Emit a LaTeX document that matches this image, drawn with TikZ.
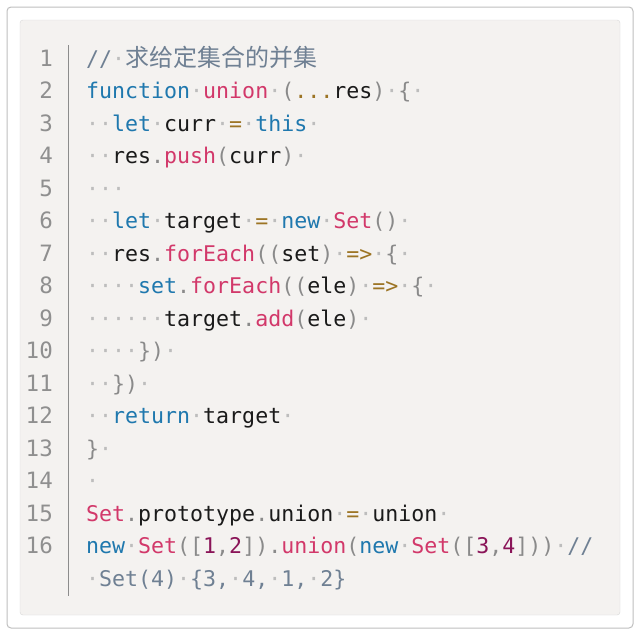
\documentclass[tikz,border=0pt]{standalone}
\usepackage{fontspec}
\newfontfamily\code{DejaVu Sans Mono}
\newfontfamily\cjk{Noto Sans CJK SC}
\definecolor{kw}{HTML}{1F78AE}
\definecolor{fn}{HTML}{D2386A}
\definecolor{op}{HTML}{9C7424}
\definecolor{pu}{HTML}{8A8A8A}
\definecolor{nu}{HTML}{8A1458}
\definecolor{cm}{HTML}{6F8093}
\definecolor{dt}{HTML}{BDBDBD}
\definecolor{tx}{HTML}{1A1A1A}
\definecolor{bg}{HTML}{F4F2F0}
\definecolor{ln}{HTML}{8F8F8F}
\newcommand\cK[1]{\textcolor{kw}{#1}}
\newcommand\cF[1]{\textcolor{fn}{#1}}
\newcommand\cO[1]{\textcolor{op}{#1}}
\newcommand\cP[1]{\textcolor{pu}{#1}}
\newcommand\cN[1]{\textcolor{nu}{#1}}
\newcommand\cC[1]{\textcolor{cm}{#1}}
\newcommand\sd{\textcolor{dt}{·}}
\begin{document}
\begin{tikzpicture}[x=1pt,y=-1pt,
  codeline/.style={anchor=base west,inner sep=0pt,text=tx,font=\code\fontsize{21.6}{30}\selectfont},
  lnum/.style={anchor=base east,inner sep=0pt,text=ln,font=\code\fontsize{22.5}{30}\selectfont}]
\useasboundingbox (0,0) rectangle (640,635);
\draw[rounded corners=4pt,draw=black!25,fill=white,line width=1pt] (7,7) rectangle (633,628);
\draw[rounded corners=3pt,draw=black!15,fill=bg] (20,20) rectangle (620,615);
\draw[draw=black!45,line width=1pt] (68,45) -- (68,596);
\foreach \i in {1,...,16} {\node[lnum] (n\i) at (53,{66+32.5*(\i-1)}) {\i};}
\def\Y#1{{66+32.5*(#1-1)}}
\node[codeline] (l1) at (86,\Y1) {\cC{//\sd{\cjk\fontsize{24}{30}\selectfont 求给定集合的并集}}};
\node[codeline] (l2) at (86,\Y2) {\cK{function}\sd\cF{union}\sd\cP{(}\cO{...}res\cP{)}\sd\cP{\{}\sd};
\node[codeline] (l3) at (86,\Y3) {\sd\sd\cK{let}\sd curr\sd\cO{=}\sd\cK{this}\sd};
\node[codeline] (l4) at (86,\Y4) {\sd\sd res\cP{.}\cF{push}\cP{(}curr\cP{)}\sd};
\node[codeline] (l5) at (86,\Y5) {\sd\sd\sd};
\node[codeline] (l6) at (86,\Y6) {\sd\sd\cK{let}\sd target\sd\cO{=}\sd\cK{new}\sd\cF{Set}\cP{()}\sd};
\node[codeline] (l7) at (86,\Y7) {\sd\sd res\cP{.}\cF{forEach}\cP{((}set\cP{)}\sd\cO{=>}\sd\cP{\{}\sd};
\node[codeline] (l8) at (86,\Y8) {\sd\sd\sd\sd\cK{set}\cP{.}\cF{forEach}\cP{((}ele\cP{)}\sd\cO{=>}\sd\cP{\{}\sd};
\node[codeline] (l9) at (86,\Y9) {\sd\sd\sd\sd\sd\sd target\cP{.}\cF{add}\cP{(}ele\cP{)}\sd};
\node[codeline] (l10) at (86,\Y{10}) {\sd\sd\sd\sd\cP{\})}\sd};
\node[codeline] (l11) at (86,\Y{11}) {\sd\sd\cP{\})}\sd};
\node[codeline] (l12) at (86,\Y{12}) {\sd\sd\cK{return}\sd target\sd};
\node[codeline] (l13) at (86,\Y{13}) {\cP{\}}\sd};
\node[codeline] (l14) at (86,\Y{14}) {\sd};
\node[codeline] (l15) at (86,\Y{15}) {\cF{Set}\cP{.}prototype\cP{.}union\sd\cO{=}\sd union\sd};
\node[codeline] (l16) at (86,\Y{16}) {\cK{new}\sd\cF{Set}\cP{([}\cN{1}\cP{,}\cN{2}\cP{]).}\cF{union}\cP{(}\cK{new}\sd\cF{Set}\cP{([}\cN{3}\cP{,}\cN{4}\cP{]))}\sd\cC{//}};
\node[codeline] (l17) at (86,\Y{17}) {\cC{\sd Set(4)\sd\{3,\sd 4,\sd 1,\sd 2\}}};
\end{tikzpicture}
\end{document}
